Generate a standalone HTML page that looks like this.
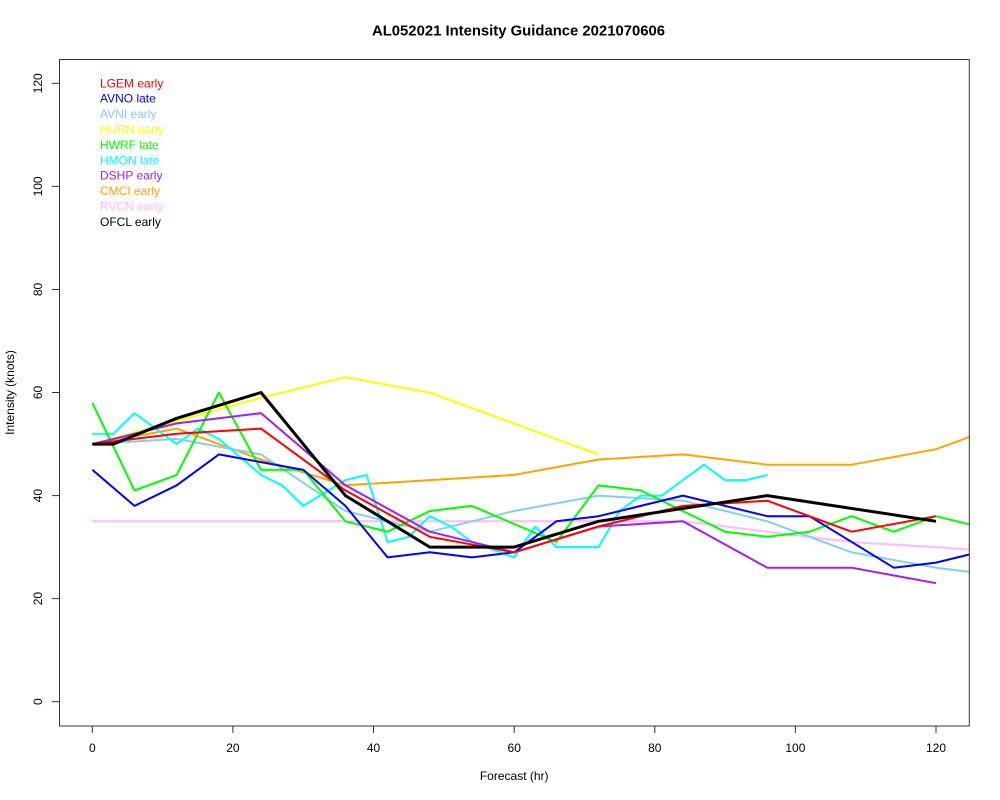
<!DOCTYPE html>
<html>
<head>
<meta charset="utf-8">
<style>
html,body{margin:0;padding:0;background:#fff;}
svg{display:block;}
text{font-family:"Liberation Sans",Arial,sans-serif;}
</style>
</head>
<body>
<svg width="1000" height="800" viewBox="0 0 1000 800" xmlns="http://www.w3.org/2000/svg">
<defs>
<clipPath id="plot"><rect x="59" y="59" width="910.3" height="667"/></clipPath>
</defs>
<rect x="0" y="0" width="1000" height="800" fill="#fff"/>

<!-- Title -->
<text x="518.5" y="35.5" font-size="14.4" font-weight="bold" text-anchor="middle" textLength="293" lengthAdjust="spacingAndGlyphs" fill="#000">AL052021 Intensity Guidance 2021070606</text>

<!-- Series -->
<g clip-path="url(#plot)" fill="none" stroke-width="2" stroke-linejoin="round">
  <!-- RVCN pink -->
  <polyline stroke="#FFBBFF" points="92.3,521.3 682.9,521.3 767.3,531.7 851.6,542.0 936.0,547.1 978.2,550.2"/>
  <!-- HURN yellow -->
  <polyline stroke="#FFFF00" points="92.3,444.1 176.7,420.9 261.0,397.7 345.4,377.1 429.8,392.5 598.5,454.4"/>
  <!-- CMCI orange -->
  <polyline stroke="#FFA500" points="92.3,444.1 176.7,428.6 261.0,459.5 345.4,485.3 429.8,480.1 514.2,474.9 598.5,459.5 682.9,454.4 767.3,464.7 851.6,464.7 936.0,449.2 978.2,433.7"/>
  <!-- AVNI skyblue -->
  <polyline stroke="#87CEEB" points="92.3,444.1 176.7,438.9 261.0,454.4 345.4,511.0 429.8,531.7 514.2,511.0 598.5,495.6 682.9,500.7 767.3,521.3 851.6,552.3 936.0,567.7 978.2,572.9"/>
  <!-- HMON cyan -->
  <polyline stroke="#00FFFF" points="92.3,433.7 113.4,433.7 134.5,413.1 176.7,444.1 197.8,428.6 218.9,438.9 261.0,474.9 282.1,485.3 303.2,505.9 345.4,480.1 366.5,474.9 387.6,542.0 408.7,536.8 429.8,516.2 450.9,526.5 472.0,542.0 514.2,557.4 535.3,526.5 556.4,547.1 598.5,547.1 619.6,511.0 640.7,495.6 661.8,495.6 704.0,464.7 725.1,480.1 746.2,480.1 767.3,474.9"/>
  <!-- HWRF green -->
  <polyline stroke="#00FF00" points="92.3,402.8 134.5,490.4 176.7,474.9 218.9,392.5 261.0,469.8 303.2,469.8 345.4,521.3 387.6,531.7 429.8,511.0 472.0,505.9 556.4,542.0 598.5,485.3 640.7,490.4 725.1,531.7 767.3,536.8 809.5,531.7 851.6,516.2 893.8,531.7 936.0,516.2 978.2,526.5"/>
  <!-- DSHP purple -->
  <polyline stroke="#A020F0" points="92.3,444.1 176.7,423.4 261.0,413.1 345.4,485.3 429.8,531.7 514.2,552.3 598.5,526.5 682.9,521.3 767.3,567.7 851.6,567.7 936.0,583.2"/>
  <!-- AVNO blue -->
  <polyline stroke="#0000FF" points="92.3,469.8 134.5,505.9 176.7,485.3 218.9,454.4 261.0,462.1 303.2,469.8 345.4,505.9 387.6,557.4 429.8,552.3 472.0,557.4 514.2,552.3 556.4,521.3 598.5,516.2 640.7,505.9 682.9,495.6 767.3,516.2 809.5,516.2 893.8,567.7 936.0,562.6 978.2,552.3"/>
  <!-- LGEM red -->
  <polyline stroke="#FF0000" points="92.3,444.1 134.5,438.9 176.7,433.7 261.0,428.6 345.4,490.4 429.8,536.8 514.2,552.3 598.5,526.5 682.9,505.9 767.3,500.7 851.6,531.7 936.0,516.2"/>
  <!-- OFCL black -->
  <polyline stroke="#000000" stroke-width="3" points="92.3,444.1 113.4,444.1 176.7,418.3 261.0,392.5 345.4,495.6 429.8,547.1 514.2,547.1 598.5,521.3 767.3,495.6 936.0,521.3"/>
</g>

<!-- Plot box -->
<rect x="59.5" y="59.5" width="909.8" height="666.5" fill="none" stroke="#333" stroke-width="1"/>

<!-- X ticks -->
<g stroke="#333" stroke-width="1">
  <line x1="92.3" y1="726" x2="92.3" y2="733"/>
  <line x1="232.9" y1="726" x2="232.9" y2="733"/>
  <line x1="373.5" y1="726" x2="373.5" y2="733"/>
  <line x1="514.2" y1="726" x2="514.2" y2="733"/>
  <line x1="654.8" y1="726" x2="654.8" y2="733"/>
  <line x1="795.4" y1="726" x2="795.4" y2="733"/>
  <line x1="936.0" y1="726" x2="936.0" y2="733"/>
</g>
<g font-size="12" text-anchor="middle" fill="#000">
  <text x="92.3" y="752">0</text>
  <text x="232.9" y="752">20</text>
  <text x="373.5" y="752">40</text>
  <text x="514.2" y="752">60</text>
  <text x="654.8" y="752">80</text>
  <text x="795.4" y="752">100</text>
  <text x="936.0" y="752">120</text>
</g>

<!-- Y ticks -->
<g stroke="#333" stroke-width="1">
  <line x1="52" y1="701.7" x2="59" y2="701.7"/>
  <line x1="52" y1="598.6" x2="59" y2="598.6"/>
  <line x1="52" y1="495.6" x2="59" y2="495.6"/>
  <line x1="52" y1="392.5" x2="59" y2="392.5"/>
  <line x1="52" y1="289.5" x2="59" y2="289.5"/>
  <line x1="52" y1="186.4" x2="59" y2="186.4"/>
  <line x1="52" y1="83.3" x2="59" y2="83.3"/>
</g>
<g font-size="12" text-anchor="middle" fill="#000">
  <text transform="translate(42,701.7) rotate(-90)">0</text>
  <text transform="translate(42,598.6) rotate(-90)">20</text>
  <text transform="translate(42,495.6) rotate(-90)">40</text>
  <text transform="translate(42,392.5) rotate(-90)">60</text>
  <text transform="translate(42,289.5) rotate(-90)">80</text>
  <text transform="translate(42,186.4) rotate(-90)">100</text>
  <text transform="translate(42,83.3) rotate(-90)">120</text>
</g>

<!-- Axis labels -->
<text x="514.2" y="780" font-size="12" text-anchor="middle" fill="#000">Forecast (hr)</text>
<text transform="translate(14,392.5) rotate(-90)" font-size="12" text-anchor="middle" fill="#000">Intensity (knots)</text>

<!-- Legend -->
<g font-size="12">
  <text x="100" y="87.3" fill="#FF0000">LGEM early</text>
  <text x="100" y="102.7" fill="#0000FF">AVNO late</text>
  <text x="100" y="118.1" fill="#87CEEB">AVNI early</text>
  <text x="100" y="133.5" fill="#FFFF00">HURN early</text>
  <text x="100" y="148.9" fill="#00FF00">HWRF late</text>
  <text x="100" y="164.3" fill="#00FFFF">HMON late</text>
  <text x="100" y="179.7" fill="#A020F0">DSHP early</text>
  <text x="100" y="195.1" fill="#FFA500">CMCI early</text>
  <text x="100" y="210.5" fill="#FFBBFF">RVCN early</text>
  <text x="100" y="225.9" fill="#000000">OFCL early</text>
</g>
</svg>
</body>
</html>
